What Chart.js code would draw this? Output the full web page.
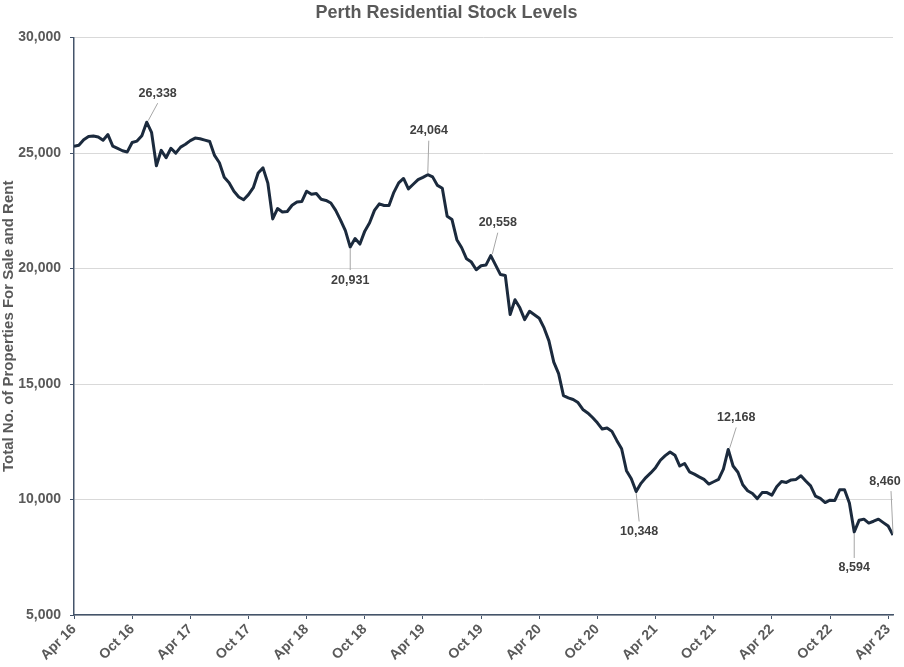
<!DOCTYPE html>
<html lang="en">
<head>
<meta charset="UTF-8">
<title>Perth Residential Stock Levels</title>
<script src="https://cdn.jsdelivr.net/npm/chart.js"></script>
<style>
  html, body { margin: 0; padding: 0; background: #fff; }
  #wrap { width: 904px; height: 667px; }
</style>
</head>
<body>
<div id="wrap"><canvas id="stockChart"></canvas></div>
<script>
// tick labels on the x axis, one every 6 months starting Apr 2016
const tickLabels = ['Apr 16', 'Oct 16', 'Apr 17', 'Oct 17', 'Apr 18', 'Oct 18', 'Apr 19',
    'Oct 19', 'Apr 20', 'Oct 20', 'Apr 21', 'Oct 21', 'Apr 22', 'Oct 22', 'Apr 23'];
const tickStepMonths = 6;

// readings every half month from Apr 2016
const stepMonths = 0.5;
const stock = [
    25290, 25340, 25580, 25720, 25740, 25700, 25560, 25800, 25300, 25200,
    25100, 25050, 25460, 25520, 25750, 26338, 25900, 24450, 25120, 24800,
    25210, 25000, 25260, 25380, 25540, 25650, 25620, 25560, 25500, 24900,
    24580, 23950, 23720, 23350, 23100, 22980, 23200, 23500, 24140, 24360,
    23700, 22150, 22600, 22450, 22470, 22740, 22880, 22900, 23350, 23220,
    23250, 23000, 22950, 22840, 22520, 22100, 21640, 20931, 21300, 21060,
    21620, 21980, 22520, 22800, 22730, 22730, 23300, 23710, 23900, 23450,
    23650, 23850, 23950, 24064, 23970, 23600, 23480, 22260, 22120, 21250,
    20900, 20420, 20280, 19950, 20120, 20150, 20558, 20150, 19740, 19700,
    18010, 18650, 18300, 17790, 18150, 18000, 17850, 17430, 16870, 15950,
    15450, 14500, 14400, 14330, 14200, 13900, 13750, 13550, 13320, 13050,
    13100, 12950, 12560, 12200, 11250, 10900, 10348, 10700, 10950, 11150,
    11380, 11700, 11900, 12060, 11920, 11450, 11560, 11200, 11100, 10980,
    10870, 10670, 10770, 10870, 11320, 12168, 11450, 11180, 10640, 10380,
    10260, 10040, 10300, 10300, 10190, 10550, 10780, 10740, 10850, 10870,
    11030, 10800, 10590, 10150, 10050, 9870, 9970, 9960, 10420, 10420,
    9850, 8594, 9100, 9150, 8980, 9060, 9150, 9000, 8850, 8460
];

// points that carry a value label
const labelIndex = [15, 57, 73, 86, 116, 135, 161, 169];
// label placement relative to its point: [dx, dy, leader end x relative to label]
const labelOffset = [[11, -29], [0, 33], [1, -44], [7, -33], [3, 40], [8, -32], [0, 36], [-8, -54, 6]];

const fmt = v => v.toLocaleString('en-US');
const textGrey = '#595959';
const fontFamily = '"Liberation Sans", Arial, sans-serif';

const valueLabels = {
    id: 'valueLabels',
    afterDatasetsDraw(chart) {
        const ctx = chart.ctx;
        const pts = chart.getDatasetMeta(0).data;
        ctx.save();
        ctx.font = 'bold 12.5px ' + fontFamily;
        ctx.textAlign = 'center';
        ctx.textBaseline = 'middle';
        labelIndex.forEach((idx, i) => {
            const p = pts[idx];
            const [dx, dy, ldx = 0] = labelOffset[i];
            const lx = p.x + dx, ly = p.y + dy;
            const dir = dy < 0 ? -1 : 1;
            ctx.strokeStyle = '#a6a6a6';
            ctx.lineWidth = 1;
            ctx.beginPath();
            ctx.moveTo(p.x + (dx > 4 ? 1.5 : 0), p.y + dir * 1.5);
            ctx.lineTo(lx + ldx, ly - dir * 10);
            ctx.stroke();
            ctx.fillStyle = '#404040';
            ctx.fillText(fmt(stock[idx]), lx, ly);
        });
        ctx.restore();
    }
};

function initChart() {
    const points = stock.map((v, i) => ({ x: i * stepMonths, y: v }));
    const ctx = document.getElementById('stockChart').getContext('2d');
    new Chart(ctx, {
        type: 'line',
        data: {
            datasets: [{
                data: points,
                borderColor: '#1b2a3d',
                borderWidth: 3,
                pointRadius: 0,
                tension: 0,
                borderJoinStyle: 'round'
            }]
        },
        options: {
            responsive: true,
            maintainAspectRatio: false,
            animation: false,
            layout: { padding: { left: 0, right: 11, top: 0, bottom: 0 } },
            plugins: {
                legend: { display: false },
                tooltip: { enabled: false },
                title: {
                    display: true,
                    text: 'Perth Residential Stock Levels',
                    color: textGrey,
                    font: { family: fontFamily, size: 18, weight: 'bold' },
                    padding: { top: 2, bottom: 14 }
                }
            },
            scales: {
                x: {
                    type: 'linear',
                    min: 0,
                    max: (stock.length - 1) * stepMonths,
                    afterFit: s => { s.height = 52; },
                    border: { color: '#44546a', width: 1.5 },
                    grid: { drawOnChartArea: false, drawTicks: true, tickLength: 4, tickColor: '#44546a' },
                    ticks: {
                        stepSize: tickStepMonths,
                        includeBounds: false,
                        autoSkip: false,
                        minRotation: 45,
                        maxRotation: 45,
                        padding: 2,
                        color: textGrey,
                        font: { family: fontFamily, size: 14, weight: 'bold' },
                        callback: v => tickLabels[Math.round(v / tickStepMonths)] || ''
                    }
                },
                y: {
                    min: 5000,
                    max: 30000,
                    afterFit: s => { s.width = 74; },
                    border: { color: '#44546a', width: 1.5 },
                    grid: { color: '#d9d9d9', tickLength: 4, tickColor: '#44546a' },
                    ticks: {
                        stepSize: 5000,
                        color: textGrey,
                        padding: 9,
                        font: { family: fontFamily, size: 14, weight: 'bold' },
                        callback: v => fmt(v)
                    },
                    title: {
                        display: true,
                        text: 'Total No. of Properties For Sale and Rent',
                        color: textGrey,
                        padding: { top: 0, bottom: 0 },
                        font: { family: fontFamily, size: 15, weight: 'bold' }
                    }
                }
            }
        },
        plugins: [valueLabels]
    });
}

window.onload = initChart;
</script>
</body>
</html>
